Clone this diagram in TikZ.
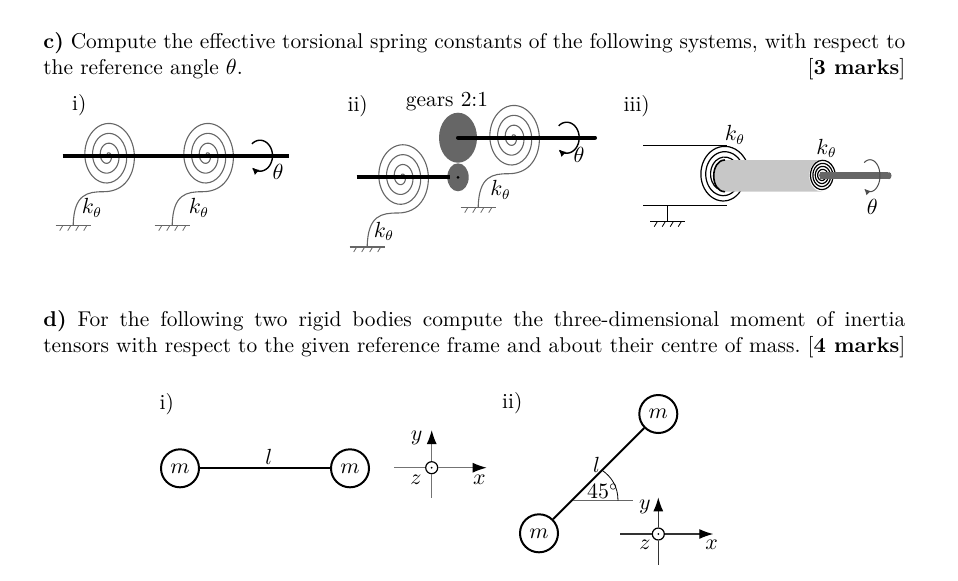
\documentclass[tikz,border=0pt]{standalone}
\usetikzlibrary{arrows.meta,shapes.geometric}
\tikzset{
  shaft/.style={line width=2pt,black},
  coilline/.style={line width=0.55pt,black!60},
  massball/.style={circle,draw,line width=1pt,minimum size=19pt,inner sep=0pt},
  origin/.style={circle,draw,line width=0.6pt,minimum size=6pt,inner sep=0pt},
  axisline/.style={line width=0.6pt,black!55},
  tiplatex/.style={-{Latex[color=black,length=7pt,width=5pt]}},
  turnline/.style={line width=0.7pt,-{Latex[length=3.5pt,width=3.5pt]}},
  plain/.style={inner sep=0pt},
  para/.style={inner sep=0pt,anchor=north west,text width=431pt,align=justify},
  every node/.append style={font=\fontsize{10.7}{13}\selectfont}
}
% spiral with its tail down to the ground
\newcommand{\coil}[2]{
  \begin{scope}[shift={(#1,#2)}]
    \draw[coilline] plot[smooth,domain=-150:1080,samples=120,variable=\t]
      ({(3.5+0.0215*\t)*cos(\t)},{(5+0.0275*\t)*sin(\t)})
      .. controls (27,18) and (18,36) .. (-4,36)
      .. controls (-20,36) and (-34,38) .. (-34.5,70);
  \end{scope}
}
\newcommand{\groundmark}[3][black!60]{
  \draw[line width=0.6pt,#1] (#2-17.5,#3) -- (#2+17.5,#3);
  \foreach \k in {-12,-4,4,12}
    \draw[line width=0.4pt,#1] (#2+\k+1.5,#3) -- (#2+\k-1.5,#3+5);
}
\newcommand{\turnarrow}[2]{
  \draw[turnline] plot[smooth,domain=-130:130,samples=30,variable=\t]
    ({#1+12.5*cos(\t)},{#2+15.5*sin(\t)});
}
\begin{document}
\begin{tikzpicture}[x=0.5pt,y=-0.5pt]
\useasboundingbox (0,0) rectangle (958,580);

% text
\node[para] (partc) at (43,32) {\textbf{c)} Compute the effective torsional spring constants of the following systems, with respect to\linebreak the reference angle $\theta$.\hfill [\textbf{3 marks}]};
\node[para] (partd) at (43,310) {\textbf{d)} For the following two rigid bodies compute the three-dimensional moment of inertia\linebreak tensors with respect to the given reference frame and about their centre of mass.\hfill [\textbf{4 marks}]};

% c i
\node[plain] (ciLabel) at (79.3,105) {i)};
\coil{107.7}{155.7}
\coil{206.7}{155.7}
\draw[shaft] (62.7,155.7) -- (289,155.7);
\turnarrow{260}{155.7}
\groundmark{73.2}{225.7}
\groundmark{172.2}{225.7}
\node[plain] (ciKa) at (92,208) {$k_\theta$};
\node[plain] (ciKb) at (199,208) {$k_\theta$};
\node[plain] (ciTheta) at (278,172) {$\theta$};

% c ii
\node[plain] (ciiLabel) at (357.7,105.7) {ii)};
\node[plain] (gearsLabel) at (447,101.7) {gears 2:1};
\fill[black!60] (458,137.7) ellipse (19 and 25);
\fill[black!60] (458,177.3) ellipse (10.7 and 14);
\fill (458,177.3) circle (1.5);
\coil{512.7}{137.7}
\coil{401.7}{177}
\draw[shaft,line cap=round] (458,137.7) -- (595,137.7);
\draw[shaft] (356.7,177.3) -- (450,177.3);
\turnarrow{566.7}{137.7}
\groundmark{478.2}{207.7}
\groundmark{367.2}{247}
\node[plain] (ciiKa) at (500.7,190) {$k_\theta$};
\node[plain] (ciiKb) at (384,231.7) {$k_\theta$};
\node[plain] (ciiTheta) at (579,155) {$\theta$};

% c iii
\node[plain] (ciiiLabel) at (636.7,105.7) {iii)};
\draw[line width=0.5pt] (643.3,145) -- (726.7,145);
\draw[line width=0.5pt] (643.3,205) -- (726.7,205);
\draw[line width=0.5pt] (667.7,205) -- (667.7,221.7);
\groundmark[black]{667.7}{221.7}
\draw[line width=0.6pt,fill=white] plot[smooth,domain=0:1080,samples=70,variable=\t]
  ({724+(11+0.0135*\t)*cos(\t)},{175+(14+0.0148*\t)*sin(\t)});
\fill[black!22] (821.7,160) -- (725,160) .. controls (710,160) and (710,191.7) .. (725,191.7) -- (821.7,191.7) -- cycle;
\draw[line width=0.8pt] (725,160) .. controls (710,160) and (710,191.7) .. (725,191.7);
\fill[white] (822.3,175.7) ellipse (13 and 16);
\draw[line width=0.6pt] plot[smooth,domain=0:1800,samples=120,variable=\t]
  ({822.3+(1+0.0067*\t)*cos(\t)},{175.7+(1+0.0084*\t)*sin(\t)});
\draw[line width=3.5pt,black!60] (820,175.7) -- (888,175.7);
\fill[black!60] (889,175.7) ellipse (2.5 and 3.5);
\draw[line width=0.5pt,black!70,-{Latex[length=3pt,width=3pt]}] plot[smooth,domain=-125:125,samples=30,variable=\t]
  ({870+10*cos(\t)},{175.7+16*sin(\t)});
\node[plain] (ciiiKa) at (735,135) {$k_\theta$};
\node[plain] (ciiiKb) at (826.7,148.3) {$k_\theta$};
\node[plain] (ciiiTheta) at (872.3,206.7) {$\theta$};

% d i
\node[plain] (diLabel) at (166.7,404) {i)};
\node[massball] (diLeft) at (180,468.3) {$m$};
\node[massball] (diRight) at (350,468.3) {$m$};
\draw[line width=1pt] (diLeft) -- node[plain,above=1.5pt,pos=0.53] (diLen) {$l$} (diRight);
\node[origin] (diO) at (431.7,467.7) {};
\fill (diO) circle (1);
\coordinate (diW) at (394,467.7);
\coordinate (diE) at (486.7,467.7);
\coordinate (diS) at (431.7,498.3);
\coordinate (diN) at (431.7,430);
\draw[axisline] (diO) -- (diW);
\draw[axisline] (diO) -- (diS);
\draw[axisline,tiplatex] (diO) -- (diE);
\draw[axisline,tiplatex] (diO) -- (diN);
\node[plain] (diY) at (416.7,438) {$y$};
\node[plain] (diX) at (479.3,480) {$x$};
\node[plain] (diZ) at (416,480) {$z$};

% d ii
\node[plain] (diiLabel) at (512.3,403.3) {ii)};
\node[massball] (diiTop) at (658.3,414) {$m$};
\node[massball] (diiBottom) at (539,533.3) {$m$};
\draw[line width=1pt] (diiBottom) -- (diiTop);
\node[plain] (diiLen) at (596.7,465) {$l$};
\coordinate (diiA) at (573.3,500.7);
\coordinate (diiB) at (633.3,500.7);
\draw[line width=0.6pt,black!60] (diiA) -- (diiB);
\draw[line width=0.4pt] (618,500.7) .. controls (618,487) and (612,477) .. (601.7,470);
\node[plain] (diiAngle) at (602.7,491) {$45^\circ$};
\node[origin] (diiO) at (658.3,534) {};
\fill (diiO) circle (1);
\coordinate (diiW) at (620,534);
\coordinate (diiE) at (713.3,534);
\coordinate (diiS) at (658.3,565);
\coordinate (diiN) at (658.3,497.3);
\draw[axisline,black!80] (diiO) -- (diiW);
\draw[axisline,black!80] (diiO) -- (diiS);
\draw[axisline,black!80,tiplatex] (diiO) -- (diiE);
\draw[axisline,black!80,tiplatex] (diiO) -- (diiN);
\node[plain] (diiY) at (645,506.7) {$y$};
\node[plain] (diiX) at (711.7,545) {$x$};
\node[plain] (diiZ) at (645,545) {$z$};
\end{tikzpicture}
\end{document}
